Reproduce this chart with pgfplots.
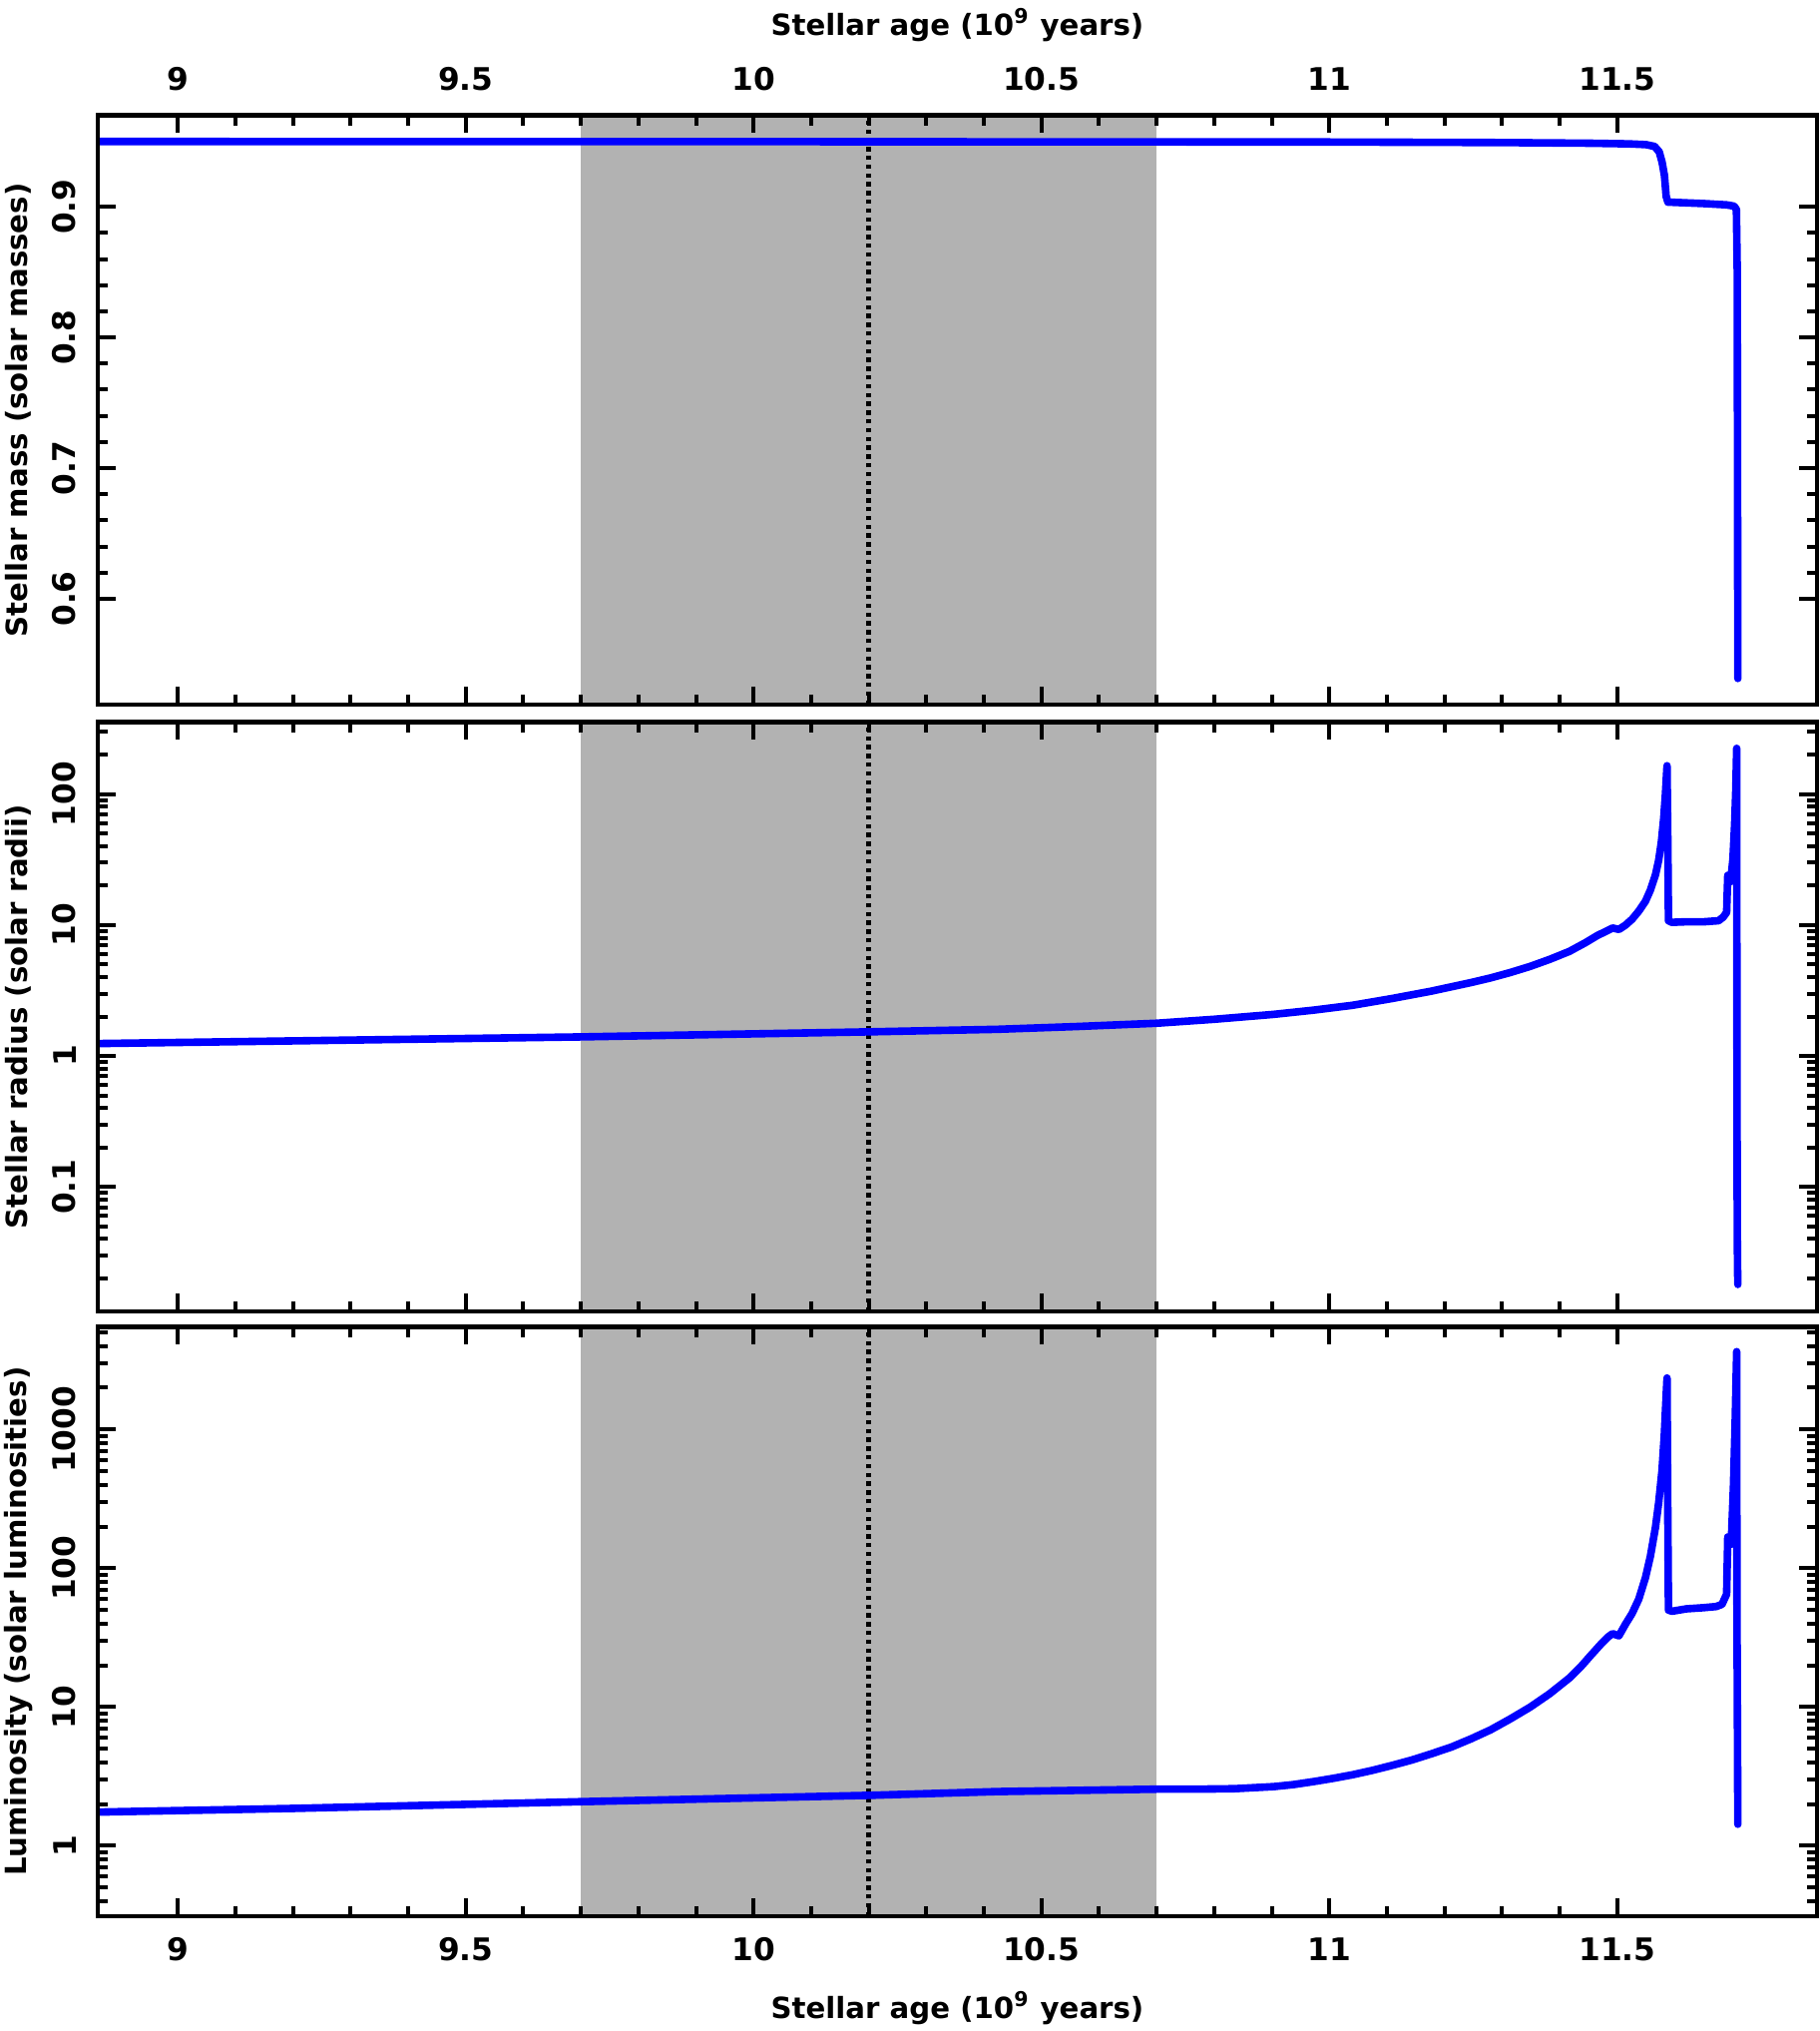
\documentclass[border=0pt]{standalone}
\usepackage{pgfplots}
\pgfplotsset{compat=1.18}
\usepackage{fontspec}
\setmainfont{DejaVu Sans}
\newcommand{\fs}{\fontsize{7.3bp}{8.8bp}\selectfont\bfseries}
\newcommand{\ft}{\fontsize{7.8bp}{9.4bp}\selectfont\bfseries}
\pgfplotsset{
  panel/.style={
    scale only axis, width=430.75bp, height=147.6bp,
    anchor=south west,
    xmin=8.861, xmax=11.847,
    axis line style={line width=1.1bp},
    every tick/.style={black, line width=1.0bp},
    tick align=inside,
    major tick length=4.4bp, minor tick length=2.6bp,
    xtick={9,9.5,10,10.5,11,11.5},
    xticklabels={9,9.5,10,10.5,11,11.5},
    minor x tick num=4,
    tick label style={font=\ft},
    label style={font=\fs},
    yticklabel style={rotate=90, anchor=south, yshift=1.9bp},
    ylabel style={at={(axis description cs:-0.046,0.5)}, anchor=center},
    axis on top,
    clip=true,
  },
  curve/.style={color={rgb,1:red,0;green,0;blue,1}, line width=1.9bp, line join=round, line cap=round},
  band/.style={fill=gray!60, draw=none},
  vline/.style={black, line width=1.1bp, dash pattern=on 1.1bp off 1.1bp},
}
\begin{document}
\begin{tikzpicture}
\useasboundingbox (-24.5bp,-28.75bp) rectangle (431.5bp,480bp);

% ---------------- Panel 1: mass ----------------
\begin{axis}[panel, at={(0,303.5bp)},
  ymin=0.519, ymax=0.970,
  ytick={0.6,0.7,0.8,0.9}, yticklabels={0.6,0.7,0.8,0.9},
  minor y tick num=4,
  xticklabel pos=upper,
  xticklabel style={anchor=south, yshift=2.7bp},
  xlabel={Stellar age (10\textsuperscript{9} years)},
  xlabel style={at={(axis description cs:0.5,1)}, anchor=base, yshift=19.9bp},
  ylabel={Stellar mass (solar masses)},
]
\addplot[band] coordinates {(9.7,0.519) (10.7,0.519) (10.7,0.970) (9.7,0.970)} -- cycle;
\addplot[vline] coordinates {(10.2,0.519) (10.2,0.970)};
\addplot[curve] coordinates {
(8.861,0.9500) (10.0,0.9499) (11.0,0.9496) (11.3,0.9492) (11.45,0.9487)
(11.52,0.9482) (11.55,0.9476) (11.565,0.9462) (11.573,0.9420) (11.578,0.9340)
(11.582,0.9240) (11.585,0.9080) (11.588,0.9036) (11.60,0.9034) (11.65,0.9025)
(11.69,0.9015) (11.703,0.9005) (11.707,0.8980) (11.7085,0.850) (11.709,0.700)
(11.7095,0.539)
};
\end{axis}

% ---------------- Panel 2: radius ----------------
\begin{axis}[panel, at={(0,151.5bp)},
  ymode=log, ymin=0.0112, ymax=355,
  ytick={0.1,1,10,100}, yticklabels={0.1,1,10,100},
  minor ytick={0.02,0.03,0.04,0.05,0.06,0.07,0.08,0.09,
               0.2,0.3,0.4,0.5,0.6,0.7,0.8,0.9,
               2,3,4,5,6,7,8,9,20,30,40,50,60,70,80,90,200,300},
  xticklabels={},
  ylabel={Stellar radius (solar radii)},
]
\addplot[band] coordinates {(9.7,0.0112) (10.7,0.0112) (10.7,355) (9.7,355)} -- cycle;
\addplot[vline] coordinates {(10.2,0.0112) (10.2,355)};
\addplot[curve] coordinates {
(8.861,1.245) (9.2,1.305) (9.7,1.40) (10.2,1.53) (10.424,1.60) (10.561,1.68)
(10.7,1.78) (10.801,1.91) (10.903,2.08) (10.972,2.24) (11.04,2.44) (11.109,2.75)
(11.177,3.13) (11.246,3.64) (11.28,3.95) (11.314,4.34) (11.349,4.84) (11.383,5.48)
(11.417,6.3) (11.445,7.35) (11.465,8.3) (11.479,8.9) (11.492,9.5) (11.503,9.27)
(11.5144,10.0) (11.5259,11.1) (11.5375,12.8) (11.549,15.2) (11.5576,18.5)
(11.5663,24.1) (11.572,31.3) (11.5767,43.2) (11.5807,65) (11.5836,98) (11.5865,165)
(11.588,40) (11.589,10.8) (11.595,10.5) (11.62,10.6) (11.65,10.6) (11.676,10.8)
(11.684,11.5) (11.690,12.5) (11.692,24) (11.697,21.5) (11.701,32) (11.704,60)
(11.706,110) (11.7075,224) (11.708,1) (11.7085,0.05) (11.709,0.025) (11.7095,0.018)
};
\end{axis}

% ---------------- Panel 3: luminosity ----------------
\begin{axis}[panel, at={(0,0)},
  ymode=log, ymin=0.311, ymax=5480,
  ytick={1,10,100,1000}, yticklabels={1,10,100,1000},
  minor ytick={0.4,0.5,0.6,0.7,0.8,0.9,
               2,3,4,5,6,7,8,9,20,30,40,50,60,70,80,90,
               200,300,400,500,600,700,800,900,2000,3000,4000,5000},
  xticklabel style={anchor=north, yshift=-1.9bp},
  xlabel={Stellar age (10\textsuperscript{9} years)},
  xlabel style={at={(axis description cs:0.5,0)}, anchor=base, yshift=-25.65bp},
  ylabel={Luminosity (solar luminosities)},
]
\addplot[band] coordinates {(9.7,0.311) (10.7,0.311) (10.7,5480) (9.7,5480)} -- cycle;
\addplot[vline] coordinates {(10.2,0.311) (10.2,5480)};
\addplot[curve] coordinates {
(8.861,1.75) (9.2,1.86) (9.7,2.08) (10.2,2.31) (10.424,2.46) (10.7,2.56)
(10.767,2.56) (10.835,2.58) (10.903,2.67) (10.937,2.76) (10.972,2.90) (11.006,3.06)
(11.04,3.25) (11.075,3.50) (11.109,3.80) (11.143,4.15) (11.177,4.60) (11.212,5.15)
(11.246,5.90) (11.280,6.85) (11.314,8.2) (11.349,10.0) (11.383,12.5) (11.417,16.2)
(11.438,19.8) (11.455,23.8) (11.472,28.5) (11.484,32.0) (11.492,33.8) (11.5029,32.6)
(11.5144,39.6) (11.5259,47.3) (11.5375,60) (11.549,85.5) (11.5576,122) (11.5663,196)
(11.572,296) (11.5778,505) (11.5818,914) (11.5847,1650) (11.5865,2350) (11.588,200)
(11.589,50) (11.595,49) (11.62,51) (11.65,52) (11.672,53) (11.682,55) (11.690,65)
(11.692,168) (11.698,149) (11.702,400) (11.705,1200) (11.7075,3640) (11.708,50)
(11.709,5) (11.7095,1.43)
};
\end{axis}
\end{tikzpicture}
\end{document}
